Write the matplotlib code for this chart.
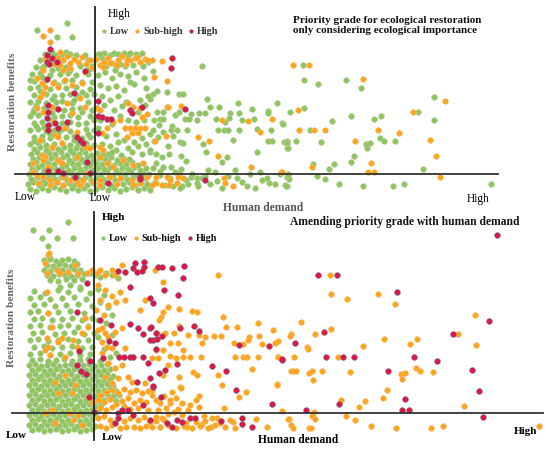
import matplotlib
matplotlib.use("Agg")
import matplotlib.pyplot as plt

# ---------------------------------------------------------------------------
# Data. x = human demand index, y = restoration
# benefit index. Panel 1 thresholds: x=95, y=26. Panel 2 thresholds: x=94, y=32.
# ---------------------------------------------------------------------------

GRADES = ["Low", "Sub-high", "High"]

# ---- panel 1: only considering ecological importance ----
p1_low = [
    # right, sparse
    (303,135),(304,120),(318,116),(346,120),(361,112),(277,97),(304,92),(290,88),(282,77),(283,76),
    (310,70),(332,79),(351,84),(374,81),(381,84),(418,88),(434,103),(434,80),(423,31),(491,16),
    (284,58),(287,59),(296,59),(287,52),(321,58),(366,56),(367,52),(370,57),(380,62),(384,59),
    (395,59),(354,44),(351,38),(334,36),(329,31),(313,36),(288,26),(287,23),(289,21),(317,24),
    (325,21),(339,16),(363,14),(393,14),(404,16),(285,15),(287,14),
    # middle
    (202,134),(153,129),(153,106),(157,109),(167,108),(179,106),(183,106),(207,101),(150,101),(167,93),
    (210,93),(219,93),(238,97),(157,88),(163,88),(175,85),(179,88),(191,86),(199,87),(205,87),
    (230,87),(239,87),(252,91),(268,89),(154,80),(160,81),(163,81),(185,81),(189,81),(197,80),
    (216,81),(225,78),(229,82),(242,80),(254,81),(268,87),(159,75),(172,74),(153,70),(163,68),
    (171,70),(177,70),(187,70),(218,70),(224,70),(228,70),(239,70),(257,71),(271,70),(173,64),
    (158,63),(233,60),(268,59),(272,59),(287,57),(154,59),(180,58),(183,57),(168,54),(203,56),
    (288,52),(257,48),(150,48),(156,46),(162,43),(169,46),(181,44),(227,43),(206,48),(222,38),
    (186,39),(156,37),(163,33),(171,33),(181,31),(208,30),(153,32),(160,29),(179,27),(260,28),
    (288,25),(191,23),(197,22),(202,22),(237,22),(217,19),(267,22),(269,17),(188,16),(197,17),
    (247,14),(286,14),(150,13),(173,14),(182,14),
    (155,18),(160,25),(165,15),(170,22),(175,28),(180,12),(186,20),(192,26),(198,14),(205,24),
    (210,16),(215,28),(222,12),(228,24),(235,30),(242,18),(250,26),(255,12),(262,20),(275,16),(280,26),
    # top
    (37,170),(67,177),(57,163),(72,163),
    (45,146),(52,148),(56,145),(62,146),(66,148),(70,146),(76,145),(85,145),(98,146),(102,142),
    (106,134),(110,145),(116,133),(120,136),(128,145),(133,135),(138,144),(143,134),(148,138),(92,134),
    (80,135),(88,140),(124,147),(114,147),(104,147),(95,140),(40,140),(42,132),(100,146),(118,146),
    (130,147),(136,146),(142,147),
    # left, middle
    (30,56),(38,57),(46,55),(54,56),(62,57),(70,55),(78,56),(86,57),(94,55),
    (34,63),(42,64),(50,62),(66,63),(74,64),(82,62),(90,63),
    (30,70),(38,71),(46,69),(54,70),(62,71),(70,69),(86,71),(94,70),
    (34,77),(42,78),(50,76),(62,77),(70,78),(78,76),(86,77),
    (30,84),(38,85),(54,83),(62,84),(70,85),(78,83),(90,84),
    (34,91),(44,92),(64,90),(72,91),(80,92),(92,90),
    (30,98),(38,99),(46,97),(56,98),(62,99),(72,97),(88,98),
    (34,105),(46,106),(54,104),(62,105),(70,106),(78,104),(86,105),(94,106),
    (30,112),(38,113),(50,111),(66,112),(76,113),(90,111),
    (34,119),(46,120),(54,118),(64,119),(72,120),(82,118),
    (32,126),(40,127),(50,125),(60,126),(68,127),(76,125),(88,126),
    (36,133),(44,134),(58,132),(66,133),(80,134),
    (34,59),(42,60),(50,66),(58,67),(36,74),(44,73),(52,80),(44,88),(52,87),(36,95),
    (52,101),(40,109),(58,115),(42,123),(52,130),(30,120),(33,88),(56,92),(74,60),(66,74),
    (82,88),(88,66),(94,80),(74,100),(82,108),(92,118),(70,130),(88,130),
    # right of threshold, middle
    (98,125),(105,128),(112,122),(120,126),(128,124),(136,128),(144,122),(100,115),(108,112),(116,114),
    (124,110),(134,116),(146,112),(102,104),(110,100),(118,104),(126,98),(140,100),(148,104),(96,92),
    (104,95),(114,90),(122,94),(138,88),(145,95),(100,80),(112,76),(120,84),(128,80),(136,78),
    (144,80),(98,72),(106,64),(116,66),(124,60),(134,58),(142,62),(150,66),(102,56),(110,54),
    (118,58),(128,52),(138,54),(146,56),(108,46),(116,50),(132,48),(142,46),(150,50),(115,130),
    (130,118),(104,136),(125,134),
    # bottom band
    (30,11),(36,9),(42,12),(48,10),(54,13),(60,11),(66,9),(72,12),(78,10),(84,12),(90,9),
    (96,11),(102,13),(108,10),(114,12),(120,9),(126,11),(132,13),(138,10),(144,12),(150,10),
    (28,16),(33,18),(39,15),(45,17),(51,16),(57,18),(63,15),(69,17),(75,16),(81,18),(87,15),
    (93,17),(99,16),(105,18),(111,15),(117,17),(123,16),(129,18),(135,15),(141,17),(147,16),
    (31,21),(37,23),(43,20),(49,22),(55,21),(61,23),(67,20),(73,22),(79,21),(85,23),
    (91,20),(97,22),(103,21),(109,23),(115,20),(121,22),(127,21),(133,23),(139,20),(145,22),
    (29,26),(35,28),(41,25),(47,27),(53,26),(59,28),(65,25),(71,27),(77,26),(83,28),(89,25),
    (95,27),(101,26),(107,28),(113,25),(119,27),(125,26),(131,28),(137,25),(143,27),(149,26),
    (32,31),(38,33),(44,30),(50,32),(56,31),(62,33),(68,30),(74,32),(80,31),(86,33),
    (92,30),(98,32),(104,31),(110,33),(116,30),(122,32),(128,31),(134,33),(140,30),(146,32),
    (30,36),(36,38),(42,35),(48,37),(54,36),(60,38),(66,35),(72,37),(78,36),(84,38),
    (90,35),(96,37),(102,36),(108,38),(114,35),(120,37),(126,36),(132,38),(138,35),
    (33,41),(39,43),(45,40),(51,42),(57,41),(63,43),(69,40),(75,42),(81,41),(87,43),
    (93,40),(99,42),(105,41),(111,43),(117,40),(123,42),(129,41),
    (31,46),(37,48),(43,45),(49,47),(55,46),(61,48),(67,45),(73,47),(79,46),(85,48),
    (91,45),(97,47),(103,46),(112,48),(121,45),
    (34,51),(40,53),(46,50),(52,52),(58,51),(64,53),(70,50),(76,52),(82,51),(88,53),
]

p1_subhigh = [
    (293,135),(309,135),(363,121),(298,90),(299,70),(314,70),(325,70),(378,70),(399,67),(413,88),
    (445,99),(430,60),(436,44),(440,23),(355,59),(371,37),(312,33),(281,28),(368,28),(374,28),
    (152,140),(162,139),(154,123),(167,119),(181,94),(168,93),(222,80),(248,79),(272,81),(260,68),
    (166,64),(198,63),(209,59),(155,59),(218,44),(251,33),(282,28),(156,23),(167,23),(170,20),
    (178,23),(183,22),(224,22),(225,17),(156,17),(162,15),(169,15),(177,17),(233,14),
    (45,142),(50,140),(54,136),(58,142),(60,135),(63,140),(67,144),(70,137),(74,141),(78,138),
    (82,143),(86,136),(90,140),(96,141),(100,135),(104,138),(108,142),(112,137),(118,140),(122,144),
    (126,136),(130,140),(135,142),(140,138),(145,141),(60,148),(63,130),(70,132),(43,164),(50,170),
    (50,158),
    (43,130),(37,122),(42,117),(45,113),(43,107),(40,103),(53,117),(58,113),(65,120),(72,115),
    (82,117),(85,128),(92,132),(103,133),(110,137),(117,135),(127,140),(137,143),(147,140),
    (97,92),(100,90),(128,97),(133,93),(140,92),(120,80),(125,72),(130,72),(135,72),(140,72),
    (145,72),(132,67),(138,67),(102,67),(107,72),(142,83),(147,86),(113,78),(100,53),(103,50),
    (127,63),(37,92),(43,88),(52,93),(67,97),(72,87),(80,102),(85,93),(53,78),(65,72),
    (77,68),(55,65),(58,63),(40,60),(62,57),(52,53),(85,53),(90,52),
    (42,45),(45,43),(43,40),(58,40),(62,37),(33,37),(48,33),(77,43),(100,43),(107,37),
    (113,33),(123,40),(133,35),(143,37),(33,28),(37,25),(43,23),(50,20),(57,18),(63,23),
    (70,20),(77,18),(83,20),(93,18),(100,20),(110,23),(120,22),(132,20),(140,17),(147,23),
    (38,17),(50,15),(63,15),(80,15),(100,15),(117,16),(133,15),(152,15),(87,27),
]

p1_high = [
    (47,145),(47,138),(49,136),(57,138),(52,142),(50,151),(85,129),(47,121),(74,107),(48,95),
    (58,91),(48,88),(47,82),(48,75),(48,70),(55,77),(58,72),(67,78),(77,63),(80,60),
    (83,57),(98,99),(98,84),(102,83),(107,81),(111,81),(98,67),(130,90),(132,87),(142,93),
    (87,38),(48,29),(58,29),(63,27),(75,23),(90,27),(108,17),(140,23),(140,21),(172,142),
    (171,132),(185,91),(205,20),
]

# ---- panel 2: amended with human demand ----
p2_low = [
    (68,223),(33,215),(49,215),(42,207),(57,207),(73,207),(48,199),(50,187),
    (44,185),(50,186),(56,184),(62,185),(68,186),(74,184),(47,180),(53,179),(59,181),(65,180),
    (71,179),(77,181),(44,175),(50,174),(56,176),(62,175),(68,174),(74,176),(80,175),(47,170),
    (53,169),(59,171),(65,170),(71,169),(77,170),(84,171),(90,172),(50,165),(58,164),(66,166),
    (74,165),(82,166),(95,170),(100,168),(106,172),(112,170),(118,167),(70,160),(80,158),(60,158),
    (34,154),(45,152),(58,155),(68,153),(80,156),(90,152),
    (30,147),(40,148),(50,146),(62,147),(74,148),(86,146),
    (34,140),(44,141),(55,139),(66,140),(78,141),(92,139),
    (30,133),(38,134),(48,132),(58,133),(70,134),(84,132),
    (34,126),(42,127),(52,125),(62,126),(72,127),(82,125),(92,127),
    (30,119),(40,120),(50,118),(60,119),(68,120),(78,118),(88,119),
    (33,112),(42,113),(55,111),(64,112),(74,113),(84,111),(94,112),
    (30,105),(38,106),(48,104),(58,105),(68,106),(78,104),(88,105),
    (34,98),(44,99),(52,97),(62,98),(72,99),(82,97),(92,98),
    (30,91),(40,92),(50,90),(60,91),(70,92),(80,90),(90,91),
    (98,156),(104,150),(100,143),(108,138),(112,130),(98,125),(106,122),(112,110),(98,108),(104,96),
    (110,88),(116,92),(100,84),
    (32,85),(40,86),(48,84),(56,85),(64,86),(72,84),(80,85),(88,86),
    (29,80),(35,81),(41,79),(47,80),(53,81),(59,79),(65,80),(71,81),(77,79),(83,80),
    (89,81),(95,79),(101,80),(107,81),
    (32,75),(38,76),(44,74),(50,75),(56,76),(62,74),(68,75),(74,76),(80,74),(86,75),
    (92,76),(98,74),(104,75),(110,76),
    (29,70),(35,71),(41,69),(47,70),(53,71),(59,69),(65,70),(71,71),(77,69),(83,70),
    (89,71),(95,69),(101,70),(107,71),(113,69),
    (32,65),(38,66),(44,64),(50,65),(56,66),(62,64),(68,65),(74,66),(80,64),(86,65),
    (92,66),(98,64),(104,65),(110,66),
    (29,60),(35,61),(41,59),(47,60),(53,61),(59,59),(65,60),(71,61),(77,59),(83,60),
    (89,61),(95,59),(101,60),(107,61),(113,59),
    (32,55),(38,56),(44,54),(50,55),(56,56),(62,54),(68,55),(74,56),(80,54),(86,55),
    (92,56),(98,54),(104,55),(110,56),(116,54),
    (29,50),(35,51),(41,49),(47,50),(53,51),(59,49),(65,50),(71,51),(77,49),(83,50),
    (89,51),(95,49),(101,50),(107,51),(113,49),(119,50),
    (32,45),(38,46),(44,44),(50,45),(56,46),(62,44),(68,45),(74,46),(80,44),(86,45),
    (92,46),(98,44),(104,45),(110,46),(116,44),
    (29,40),(35,41),(41,39),(47,40),(53,41),(59,39),(65,40),(71,41),(77,39),(83,40),
    (89,41),(95,39),(101,40),
    (32,35),(38,36),(44,34),(50,35),(56,36),(62,34),(68,35),(74,36),(80,34),(86,35),(92,36),(98,34),
    (29,30),(35,31),(41,29),(47,30),(53,31),(59,29),(65,30),(71,31),(77,29),(83,30),(89,31),(95,29),
    (32,25),(38,26),(44,24),(50,25),(56,26),(62,24),(68,25),(74,26),(80,24),(86,25),(92,26),
    (29,20),(35,21),(41,19),(47,20),(53,21),(59,19),(65,20),(71,21),(77,19),(83,20),(89,21),(95,19),
    (32,15),(38,16),(44,14),(50,15),(56,16),(62,14),(68,15),(74,16),(80,14),(86,15),(92,16),
]

p2_subhigh = [
    # right, sparse
    (330,170),(331,151),(347,146),(378,151),(395,141),(301,123),(331,116),(315,111),(291,111),(290,109),
    (275,102),(384,106),(363,99),(410,101),(417,106),(458,111),(475,130),(476,100),(307,98),(308,96),
    (278,88),(294,88),(338,88),(291,74),(293,74),(296,74),(309,72),(312,74),(322,74),(350,73),
    (313,65),(277,61),(401,71),(405,72),(402,66),(416,77),(420,74),(433,73),(387,55),(383,47),
    (365,44),(359,38),(341,45),(464,39),(282,34),(314,33),(312,29),(315,26),(346,29),(355,25),
    (289,26),(291,20),(293,17),(309,17),(311,17),(371,19),(396,17),(431,17),(443,19),(539,19),
    # middle
    (155,175),(163,163),(218,170),(179,136),(192,134),(197,133),(163,133),(161,128),(159,125),(168,138),
    (223,128),(258,122),(226,118),(237,118),(273,115),(157,112),(165,112),(174,112),(179,119),(188,110),
    (199,110),(205,108),(214,109),(221,109),(259,109),(249,108),(248,105),(234,102),(243,101),(262,101),
    (278,104),(170,102),(178,102),(202,102),(156,95),(163,95),(183,95),(170,89),(176,87),(183,88),
    (190,88),(201,88),(152,87),(158,87),(235,88),(243,88),(247,88),(258,88),(278,88),(168,80),
    (193,73),(197,70),(252,76),(218,70),(163,70),(179,68),(222,60),(277,60),(172,53),(180,58),
    (181,57),(199,49),(239,48),(246,53),(152,50),(160,42),(170,42),(182,42),(199,38),(224,37),
    (188,35),(178,36),(168,31),(156,28),(162,27),(204,29),(212,27),(217,27),(233,23),(256,26),
    (186,22),(202,21),(152,18),(160,18),(187,18),(211,18),(267,18),(288,26),
    (156,45),(164,49),(170,45),(176,47),(158,35),(166,37),(174,33),(182,30),(190,40),(196,45),
    (160,18),(168,20),(176,17),(184,19),(192,17),(200,19),(208,17),(215,20),(225,18),(235,17),
    (156,24),(164,25),(196,23),(205,24),(220,22),(230,25),
    # left
    (48,190),(45,182),(47,172),(57,175),(60,172),(68,173),(75,180),(78,172),(87,172),(92,175),
    (97,172),(100,175),(105,170),(112,175),(115,170),(122,180),(49,192),(47,153),(48,132),(52,118),
    (47,107),(48,98),(45,95),(50,90),(58,103),(62,107),(65,88),(73,105),(77,98),(82,112),
    (85,127),(88,118),(98,115),(102,117),(105,112),(108,108),(115,113),(122,117),(102,103),(107,98),
    (112,97),(125,97),(102,92),(108,82),(115,77),(122,80),(128,68),(132,63),(105,68),(112,62),
    (118,67),(145,62),(152,55),(65,70),(55,63),(75,60),(58,52),(72,52),(88,48),(52,35),
    (45,32),(70,32),(78,30),(73,25),(82,20),(55,22),(92,43),
    (98,160),(105,155),(112,149),(120,153),(100,145),(108,140),(116,143),(96,135),(104,130),(125,145),
    (140,135),(145,145),
    # bottom, right of threshold
    (100,50),(106,53),(112,55),(118,52),(124,56),(130,53),(136,55),(142,52),(148,54),
    (98,45),(104,43),(110,46),(116,41),(122,44),(128,47),(134,42),(140,45),(146,43),
    (100,37),(106,35),(112,38),(124,39),(130,36),(138,37),(148,35),
    (98,27),(104,29),(110,25),(124,24),(130,27),(138,25),(144,28),(150,23),
    (100,19),(106,17),(112,20),(120,17),(126,18),(134,18),(140,17),(146,19),
]

p2_high = [
    (318,170),(337,170),(397,153),(497,210),(489,124),(453,111),(324,113),(295,102),(282,85),(326,88),
    (343,88),(354,88),(414,88),(437,84),(388,74),(472,75),(479,54),(339,41),(405,46),(306,35),
    (402,35),(409,35),(483,28),
    (158,178),(162,178),(172,177),(184,179),(183,167),(164,155),(178,150),(150,147),(153,142),(150,117),
    (156,112),(162,109),(180,117),(194,119),(199,114),(153,105),(156,96),(239,100),(269,99),(282,86),
    (177,81),(212,79),(226,74),(165,75),(150,67),(153,58),(161,48),(236,55),(272,41),(150,25),
    (167,22),(177,25),(182,23),(190,27),(195,27),(221,24),(242,27),(242,21),(252,18),(172,18),
    (125,173),(133,177),(135,182),(144,183),(144,178),(137,173),(130,158),(87,162),(77,133),(100,125),
    (109,104),(111,120),(130,121),(138,117),(143,111),(151,118),(150,105),(157,106),(115,102),(119,88),
    (124,88),(130,88),(133,88),(143,88),(137,63),(153,59),(159,72),(79,94),(77,80),(81,74),
    (86,71),(90,84),(89,48),(94,33),(118,32),(122,35),(128,35),(118,27),(115,22),(133,30),
    (143,40),(103,87),(148,82),(118,174),(142,174),
]

# ---------------------------------------------------------------------------
# Styling
# ---------------------------------------------------------------------------
plt.rcParams["font.family"] = ["Liberation Serif", "DejaVu Serif"]

COLORS = {"Low": "#8fc65c", "Sub-high": "#ffa41b", "High": "#e0163a"}
EDGES = {"Low": "#b5c9a4", "Sub-high": "#f0c07a", "High": "#6b6fa8"}
DOT = 17

fig = plt.figure(figsize=(5.5, 4.49), dpi=100)
ax1 = fig.add_axes([0, 1 - 205 / 449, 1, 205 / 449])
ax2 = fig.add_axes([0, 0, 1, 244 / 449])


def draw_panel(ax, series, xthr, ythr, hline, vline, ylim, legend_at, legend_color):
    for grade, pts in zip(GRADES, series):
        xs, ys = zip(*pts)
        ax.scatter(xs, ys, s=DOT, c=COLORS[grade], edgecolors=EDGES[grade],
                   linewidths=0.4, label=grade, zorder=2)
    ax.plot(hline, [ythr, ythr], color="#333333", lw=1.3, zorder=3)
    ax.plot([xthr, xthr], vline, color="#222222", lw=1.3, zorder=3)
    ax.set_xlim(0, 550)
    ax.set_ylim(*ylim)
    ax.axis("off")
    leg = ax.legend(loc="center left", bbox_to_anchor=legend_at, bbox_transform=ax.transData,
                    ncol=3, frameon=False, markerscale=0.65, handlelength=0.5,
                    handletextpad=0.35, columnspacing=0.55, borderpad=0, borderaxespad=0,
                    prop={"weight": "bold", "size": 7.3})
    for t in leg.get_texts():
        t.set_color(legend_color)


draw_panel(ax1, [p1_low, p1_subhigh, p1_high], 95, 26, [15, 498], [193, 5],
           (-5, 200), (101, 169), "#333333")
draw_panel(ax2, [p2_low, p2_subhigh, p2_high], 94, 32, [12, 543], [233, 5],
           (-4, 240), (100, 207), "#111111")

# panel 1 annotations
ax1.text(108, 186, "High", fontsize=8.3, ha="left", va="center")
ax1.text(293, 174.5, "Priority grade for ecological restoration\nonly considering ecological importance",
         fontsize=8.0, fontweight="bold", ha="left", va="center", linespacing=1.25, color="#111111")
ax1.text(13, 98, "Restoration benefits", rotation=90, fontsize=8.2, fontweight="bold",
         color="#666666", ha="center", va="center")
ax1.text(25, 3, "Low", fontsize=8.3, ha="center", va="center")
ax1.text(100, 2, "Low", fontsize=8.3, ha="center", va="center")
ax1.text(263, -8, "Human demand", fontsize=8.3, fontweight="bold", color="#555555",
         ha="center", va="center")
ax1.text(478, 1, "High", fontsize=8.3, ha="center", va="center")

# panel 2 annotations
ax2.text(102, 227, "High", fontsize=8, fontweight="bold", ha="left", va="center")
ax2.text(290, 223, "Amending priority grade with human demand", fontsize=8.3,
         fontweight="bold", ha="left", va="center", color="#111111")
ax2.text(12, 127, "Restoration benefits", rotation=90, fontsize=8.2, fontweight="bold",
         color="#666666", ha="center", va="center")
ax2.text(16, 9, "Low", fontsize=8, fontweight="bold", ha="center", va="center")
ax2.text(112, 8, "Low", fontsize=8, fontweight="bold", ha="center", va="center")
ax2.text(298, 5, "Human demand", fontsize=8.3, fontweight="bold", ha="center", va="center")
ax2.text(525, 14, "High", fontsize=8, fontweight="bold", ha="center", va="center")

fig.savefig("out.png", dpi=100)
